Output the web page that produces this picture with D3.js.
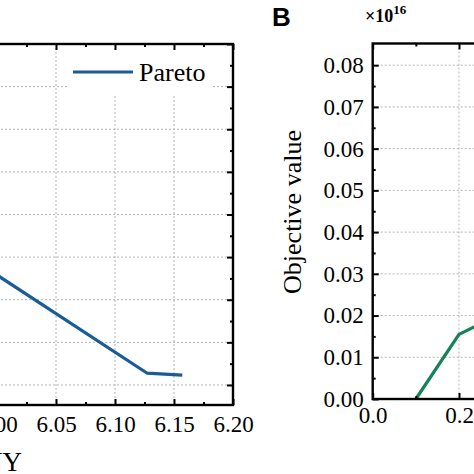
<!DOCTYPE html>
<html>
<head>
<meta charset="utf-8">
<script src="https://cdn.jsdelivr.net/npm/d3@7"></script>
<style>
body{margin:0;background:#fff}
svg{display:block}
text{font-family:"Liberation Serif","Times New Roman",serif;fill:#000}
</style>
</head>
<body>
<svg id="fig" width="474" height="474"></svg>
<script>
// panel A (pareto front, only the right part is in frame)
const paretoX = [6.00, 6.127, 6.157]
const paretoY = [3.58, 1.28, 1.23]
const aXTicks = [6.00, 6.05, 6.10, 6.15, 6.20]
const aXMinor = [6.025, 6.075, 6.125, 6.175]
const aYTicks = [1, 2, 3, 4, 5, 6, 7, 8, 9]
const aYMinor = [1.5, 2.5, 3.5, 4.5, 5.5, 6.5, 7.5, 8.5]

// panel B (objective value, x10^16)
const objX = [0.1, 0.2, 0.3]
const objY = [0.0, 0.0155, 0.0205]
const bXTicks = [0.0, 0.2, 0.4]
const bXMinor = [0.1, 0.3]
const bYTicks = [0, 0.01, 0.02, 0.03, 0.04, 0.05, 0.06, 0.07, 0.08]
const bYMinor = [0.005, 0.015, 0.025, 0.035, 0.045, 0.055, 0.065, 0.075]

const svg = d3.select("#fig")
const gridStyle = "fill:none;stroke:#b4b4b4;stroke-width:1;stroke-dasharray:2,2;"
const tickFont = 23

function styleAxis(g){
	g.attr("font-size", null).attr("font-family", null)
	g.select(".domain").remove()
	g.selectAll(".tick line").attr("stroke", "#000").attr("stroke-width", 2)
	g.selectAll("text").style("font-size", tickFont + "px").attr("fill", "#000")
}

// ---------- panel A ----------
{
	const L = -3, R = 233, T = 44, B = 405
	const x = d3.scaleLinear().domain([6.00, 6.20]).range([L, R])
	const y = d3.scaleLinear().domain([0.53, 9.0]).range([B, T])
	const g = svg.append("g")

	g.append("g").selectAll("line").data(aXTicks.slice(1, -1)).enter().append("line")
		.attr("x1", d => x(d)).attr("x2", d => x(d)).attr("y1", T).attr("y2", B)
		.attr("style", gridStyle)
	g.append("g").selectAll("line").data(aYTicks.slice(0, -1)).enter().append("line")
		.attr("y1", d => y(d)).attr("y2", d => y(d)).attr("x1", L).attr("x2", R)
		.attr("style", gridStyle)

	// legend box hides the grid behind it
	g.append("rect").attr("x", 68).attr("y", 50).attr("width", 144).attr("height", 44).attr("fill", "#fff")
	g.append("line").attr("x1", 73).attr("x2", 133).attr("y1", 72).attr("y2", 72)
		.attr("stroke", "#1a5c98").attr("stroke-width", 3.2)
	g.append("text").attr("x", 139).attr("y", 81).style("font-size", "26px").text("Pareto")

	g.append("path").datum(paretoX.map((d, i) => [d, paretoY[i]]))
		.attr("d", d3.line().x(d => x(d[0])).y(d => y(d[1])))
		.attr("fill", "none").attr("stroke", "#1a5c98").attr("stroke-width", 3.2)
		.attr("stroke-linejoin", "round")

	g.append("g").attr("transform", `translate(0,${B})`)
		.call(d3.axisBottom(x).tickValues(aXTicks).tickSize(-6).tickPadding(11).tickFormat(d3.format(".2f")))
		.call(styleAxis)
	g.append("g").attr("transform", `translate(0,${B})`)
		.call(d3.axisBottom(x).tickValues(aXMinor).tickSize(-3).tickFormat(""))
		.call(styleAxis)
	g.append("g").attr("transform", `translate(0,${T})`)
		.call(d3.axisTop(x).tickValues(aXTicks).tickSize(-6).tickFormat(""))
		.call(styleAxis)
	g.append("g").attr("transform", `translate(0,${T})`)
		.call(d3.axisTop(x).tickValues(aXMinor).tickSize(-3).tickFormat(""))
		.call(styleAxis)
	g.append("g").attr("transform", `translate(${R},0)`)
		.call(d3.axisLeft(y).tickValues(aYTicks).tickSize(6).tickFormat(""))
		.call(styleAxis)
	g.append("g").attr("transform", `translate(${R},0)`)
		.call(d3.axisLeft(y).tickValues(aYMinor).tickSize(3).tickFormat(""))
		.call(styleAxis)

	g.append("rect").attr("x", L).attr("y", T).attr("width", R - L).attr("height", B - T)
		.attr("fill", "none").attr("stroke", "#000").attr("stroke-width", 2.4)

	g.append("text").attr("x", 22).attr("y", 471).attr("text-anchor", "end")
		.style("font-size", "27px").text("Total cost/CNY")
}

// ---------- panel B ----------
{
	const L = 372.7, T = 43.5, B = 399
	const x = d3.scaleLinear().domain([0, 1]).range([L, L + 431.5])
	const y = d3.scaleLinear().domain([0, 0.0852]).range([B, T])
	const R = x(1)
	const g = svg.append("g")

	g.append("g").selectAll("line").data(bXTicks.slice(1)).enter().append("line")
		.attr("x1", d => x(d)).attr("x2", d => x(d)).attr("y1", T).attr("y2", B)
		.attr("style", gridStyle)
	g.append("g").selectAll("line").data(bYTicks.slice(1)).enter().append("line")
		.attr("y1", d => y(d)).attr("y2", d => y(d)).attr("x1", L).attr("x2", R)
		.attr("style", gridStyle)

	g.append("path").datum(objX.map((d, i) => [d, objY[i]]))
		.attr("d", d3.line().x(d => x(d[0])).y(d => y(d[1])))
		.attr("fill", "none").attr("stroke", "#16825a").attr("stroke-width", 3.2)
		.attr("stroke-linejoin", "round")

	g.append("g").attr("transform", `translate(0,${B})`)
		.call(d3.axisBottom(x).tickValues(bXTicks).tickSize(-6).tickPadding(8).tickFormat(d3.format(".1f")))
		.call(styleAxis)
	g.append("g").attr("transform", `translate(0,${B})`)
		.call(d3.axisBottom(x).tickValues(bXMinor).tickSize(-3).tickFormat(""))
		.call(styleAxis)
	g.append("g").attr("transform", `translate(0,${T})`)
		.call(d3.axisTop(x).tickValues(bXTicks).tickSize(-6).tickFormat(""))
		.call(styleAxis)
	g.append("g").attr("transform", `translate(0,${T})`)
		.call(d3.axisTop(x).tickValues(bXMinor).tickSize(-3).tickFormat(""))
		.call(styleAxis)
	g.append("g").attr("transform", `translate(${L},0)`)
		.call(d3.axisLeft(y).tickValues(bYTicks).tickSize(-6).tickPadding(9).tickFormat(d3.format(".2f")))
		.call(styleAxis)
	g.append("g").attr("transform", `translate(${L},0)`)
		.call(d3.axisLeft(y).tickValues(bYMinor).tickSize(-3).tickFormat(""))
		.call(styleAxis)

	g.append("rect").attr("x", L).attr("y", T).attr("width", R - L).attr("height", B - T)
		.attr("fill", "none").attr("stroke", "#000").attr("stroke-width", 2.4)

	g.append("text").attr("transform", `translate(301,212) rotate(-90)`).attr("text-anchor", "middle")
		.style("font-size", "26px").text("Objective value")

	const ex = g.append("text").attr("x", 365).attr("y", 22)
		.style("font-size", "18px").style("font-weight", "bold")
	ex.append("tspan").text("×10")
	ex.append("tspan").attr("dy", -8).style("font-size", "13px").text("16")

	g.append("text").attr("x", 272).attr("y", 26)
		.style("font-family", "'Liberation Sans', Arial, sans-serif")
		.style("font-size", "26px").style("font-weight", "bold").text("B")
}
</script>
</body>
</html>
